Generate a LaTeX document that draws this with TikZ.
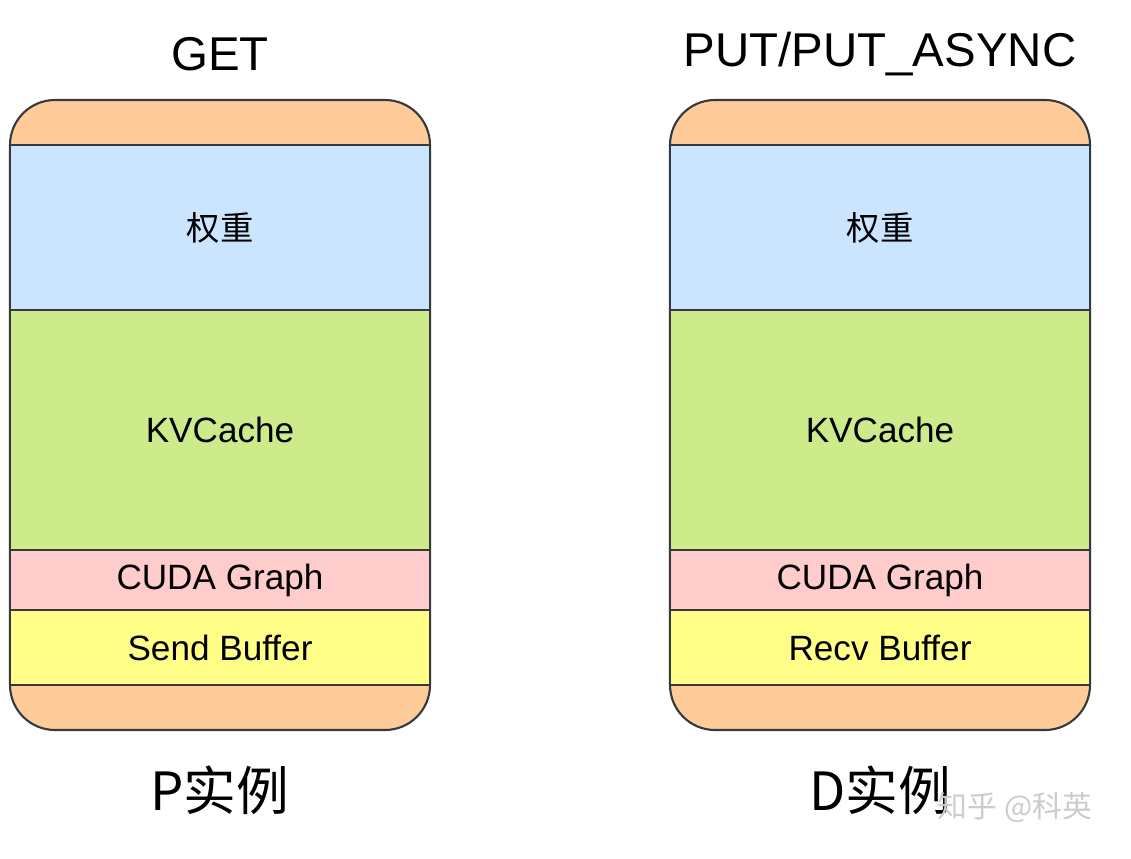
\documentclass[tikz,border=0pt]{standalone}
\usepackage{fontspec}
\setmainfont{Liberation Sans}
\newfontfamily\cjk{Noto Sans CJK SC}
\usetikzlibrary{positioning}
\definecolor{capfill}{HTML}{FFCC99}
\definecolor{wfill}{HTML}{CCE5FF}
\definecolor{kvfill}{HTML}{CDEB8B}
\definecolor{cgfill}{HTML}{FFCCCC}
\definecolor{buffill}{HTML}{FFFF88}
\definecolor{edge}{HTML}{36393D}
\tikzstyle{shell} = [draw=edge, line width=1.2pt, fill=capfill, rounded corners=0.9cm]
\tikzstyle{layer} = [draw=edge, line width=1.2pt]
\tikzstyle{lbl} = [font=\fontsize{20}{24}\selectfont]
\tikzstyle{title} = [font=\fontsize{27}{32}\selectfont]
\tikzstyle{inst} = [font=\cjk\fontsize{30}{34}\selectfont]

\begin{document}
\begin{tikzpicture}[x=0.02cm, y=-0.02cm]
    \useasboundingbox (0,0) rectangle (1131,858);

    % Stacks
    \foreach \x/\buf in {10/Send, 670/Recv} {
        \draw [shell] (\x,100) rectangle ++(420,630);
        \draw [layer, fill=wfill] (\x,145) rectangle ++(420,165);
        \draw [layer, fill=kvfill] (\x,310) rectangle ++(420,240);
        \draw [layer, fill=cgfill] (\x,550) rectangle ++(420,60);
        \draw [layer, fill=buffill] (\x,610) rectangle ++(420,75);
        \node (w\x) [lbl, font=\cjk\fontsize{19}{24}\selectfont] at (\x+210,228) {权重};
        \node (kv\x) [lbl] at (\x+210,430) {KVCache};
        \node (cg\x) [lbl] at (\x+210,580) {CUDA Graph};
        \node (buf\x) [lbl] at (\x+210,648) {\buf{} Buffer};
    }

    % Titles
    \node (get) [title] at (220,54) {GET};
    \node (put) [title] at (880,54) {PUT/PUT\_ASYNC};
    \node (pinst) [inst] at (220,790) {P实例};
    \node (dinst) [inst] at (880,790) {D实例};
    \node (mark) [font=\cjk\fontsize{17}{20}\selectfont, text=gray!40] at (1015,808) {知乎 @科英};

\end{tikzpicture}
\end{document}
